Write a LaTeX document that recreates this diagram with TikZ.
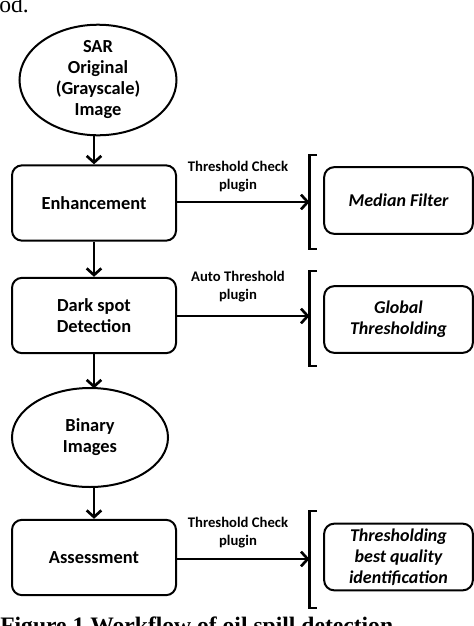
\documentclass[tikz,border=0pt]{standalone}
\usepackage{fontspec}
\setmainfont{Carlito}
\newfontfamily\pagefont{Liberation Serif}
\usetikzlibrary{shapes.geometric,arrows.meta}

\tikzset{
    procbox/.style={draw,line width=1.5pt,rounded corners=7.5pt,minimum width=123pt,
        minimum height=56.5pt,align=center,inner sep=0pt,
        font=\bfseries\fontsize{13.8}{15.75}\selectfont},
    databox/.style={draw,line width=1.5pt,ellipse,inner sep=0pt,align=center,
        font=\bfseries\fontsize{13.8}{15.75}\selectfont},
    resbox/.style={draw,line width=1.5pt,rounded corners=7.5pt,minimum width=111.5pt,
        minimum height=50pt,align=center,inner sep=0pt,
        font=\bfseries\itshape\fontsize{13.5}{15.75}\selectfont},
    plug/.style={align=center,inner sep=0pt,font=\bfseries\fontsize{11}{13.5}\selectfont},
    flow/.style={line width=2.2pt,-{Straight Barb[length=5pt,width=11pt,line width=2pt]}},
    brack/.style={line width=2.2pt}
}

\begin{document}
\begin{tikzpicture}[x=0.75pt,y=-0.75pt]
    \useasboundingbox (0,0) rectangle (474,626);
    \clip (0,0) rectangle (474,626);

    % page text around the figure
    \node[anchor=base west,inner sep=0pt,font=\pagefont\fontsize{17.7}{20}\selectfont] (prev) at (-1,12) {od.};
    \node[anchor=base west,inner sep=0pt,font=\pagefont\bfseries\fontsize{17.7}{20}\selectfont] (cap) at (0,633) {Figure 1 Workflow of oil spill detection};

    % main column
    \node[databox,minimum width=117.75pt,minimum height=75pt] (sar) at (98,80) {SAR\\Original\\(Grayscale)\\Image};
    \node[procbox] (enh) at (94,203) {Enhancement};
    \node[procbox] (dark) at (94,315.5) {Dark spot\\Detection};
    \node[databox,minimum width=117pt,minimum height=74.25pt] (bin) at (90,437.5) {Binary\\Images};
    \node[procbox] (ass) at (94,557.5) {Assessment};

    % results on the right
    \node[resbox] (med) at (398.5,200.5) {Median Filter};
    \node[resbox] (glob) at (398.5,319.5) {Global\\Thresholding};
    \node[resbox] (thr) at (398.5,557) {Thresholding\\best quality\\identification};

    % brackets
    \coordinate (b1) at (309.5,202);
    \coordinate (b2) at (309.5,316);
    \coordinate (b3) at (309.5,559);
    \draw[brack] (317,155) -- (309.5,155) -- (309.5,249) -- (317,249);
    \draw[brack] (317,271) -- (309.5,271) -- (309.5,366) -- (317,366);
    \draw[brack] (317,511) -- (309.5,511) -- (309.5,608) -- (317,608);

    % plugin labels
    \node[plug] (l1) at (238,177) {Threshold Check\\plugin};
    \node[plug] (l2) at (238,287) {Auto Threshold\\plugin};
    \node[plug] (l3) at (238,533) {Threshold Check\\plugin};

    % connectors
    \draw[flow] (enh.north |- sar.south) -- (enh.north);
    \draw[flow] (enh.south) -- (dark.north);
    \draw[flow] (dark.south) -- ([yshift=-1pt]dark.south |- bin.north);
    \draw[flow] (ass.north |- bin.south) -- (ass.north);
    \draw[flow] (enh.east |- b1) -- (b1);
    \draw[flow] (dark.east |- b2) -- (b2);
    \draw[flow] (ass.east |- b3) -- (b3);
\end{tikzpicture}
\end{document}
